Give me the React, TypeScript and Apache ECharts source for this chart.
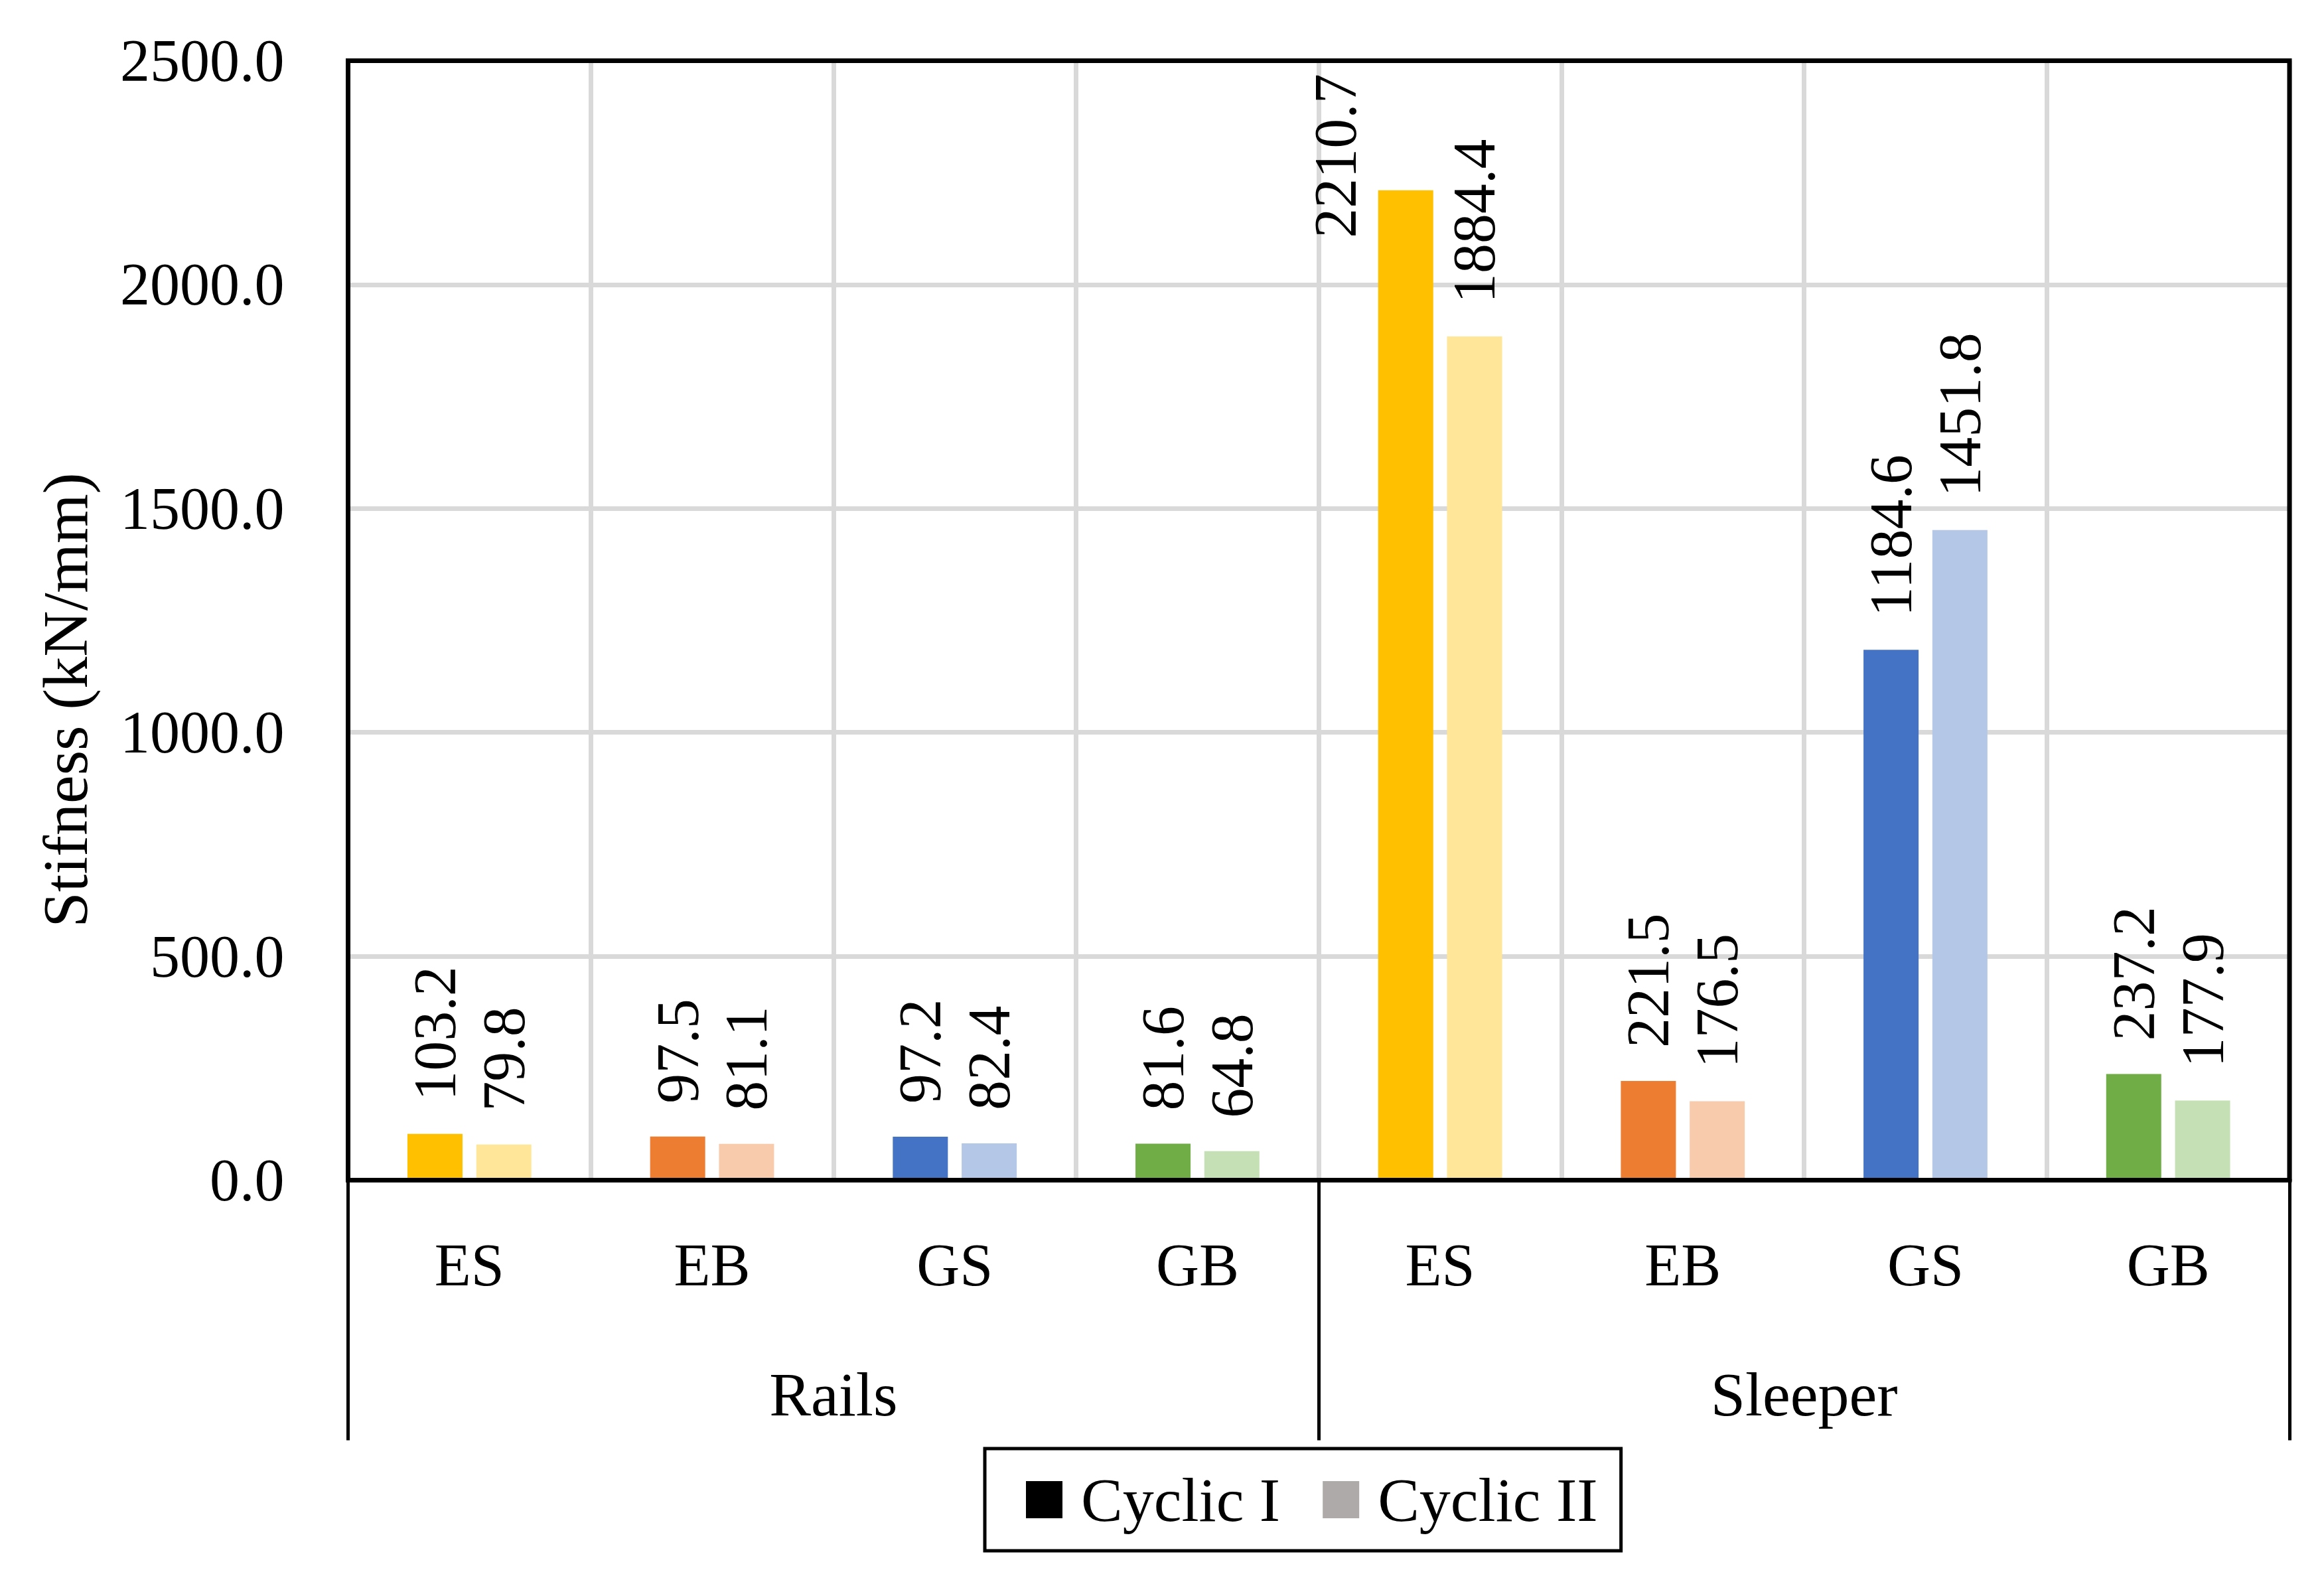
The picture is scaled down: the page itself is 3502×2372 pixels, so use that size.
import React, { useEffect, useRef } from "react";
import * as echarts from "echarts";

const categories = ["ES", "EB", "GS", "GB", "ES", "EB", "GS", "GB"];
const groups = ["Rails", "Sleeper"];
const cyclicI = [103.2, 97.5, 97.2, 81.6, 2210.7, 221.5, 1184.6, 237.2];
const cyclicII = [79.8, 81.1, 82.4, 64.8, 1884.4, 176.5, 1451.8, 177.9];
const colorsI = ["#FFC000", "#ED7D31", "#4472C4", "#70AD47"];
const colorsII = ["#FFE699", "#F8CBAD", "#B4C7E7", "#C5E0B4"];
const seriesNames = ["Cyclic I", "Cyclic II"];
const legendColors = ["#000000", "#AEAAAA"];
const yTicks = { min: 0, max: 2500, interval: 500 };
const yName = "Stifness (kN/mm)";

const FONT = "'Liberation Serif', 'Times New Roman', serif";

const GRID = { left: 524.5, top: 91.5, right: 3450, bottom: 1778.5 };

export default function App() {
  const ref = useRef<HTMLDivElement>(null);
  useEffect(() => {
    if (!ref.current) return;
    const chart = echarts.init(ref.current, undefined, { renderer: "svg" });

    const baseLabel = {
      show: true,
      position: "top",
      distance: 50,
      rotate: 90,
      align: "left",
      verticalAlign: "middle",
      fontSize: 90,
      fontFamily: FONT,
      color: "#000",
      formatter: (p: any) => Number(p.value).toFixed(1),
    };

    const makeData = (vals: number[], cols: string[], sIdx: number) =>
      vals.map((v, i) => {
        const item: any = { value: v, itemStyle: { color: cols[i % 4] } };
        if (sIdx === 0 && i === 4) {
          item.label = { position: [-64, 72] };
        }
        return item;
      });

    chart.setOption({
      animation: false,
      backgroundColor: "#fff",
      grid: {
        left: GRID.left,
        right: 3502 - GRID.right,
        top: GRID.top,
        bottom: 2372 - GRID.bottom,
        show: false,
      },
      legend: {
        data: seriesNames,
        left: 1484,
        top: 2183,
        orient: "horizontal",
        icon: "rect",
        itemWidth: 55,
        itemHeight: 56,
        itemGap: 64,
        padding: [30, 35, 30, 62],
        borderColor: "#000",
        borderWidth: 5,
        backgroundColor: "#fff",
        textStyle: {
          fontSize: 94,
          fontFamily: FONT,
          color: "#000",
          padding: [0, 0, 0, 23],
        },
      },
      graphic: [
        {
          type: "text",
          x: 98,
          y: 1055,
          rotation: Math.PI / 2,
          style: {
            text: yName,
            fontSize: 96,
            fontFamily: FONT,
            fill: "#000",
            align: "center",
            verticalAlign: "middle",
          },
        },
        {
          type: "rect",
          z: 100,
          silent: true,
          shape: {
            x: GRID.left,
            y: GRID.top,
            width: GRID.right - GRID.left,
            height: GRID.bottom - GRID.top,
          },
          style: { fill: "none", stroke: "#000", lineWidth: 7 },
        },
      ],
      xAxis: [
        {
          type: "category",
          data: categories,
          position: "bottom",
          axisLine: { show: true, lineStyle: { color: "#000", width: 7 } },
          axisTick: { show: false },
          axisLabel: {
            interval: 0,
            margin: 83,
            fontSize: 90,
            fontFamily: FONT,
            color: "#000",
          },
          splitLine: {
            show: true,
            interval: 0,
            lineStyle: { color: "#D9D9D9", width: 7 },
          },
        },
        {
          type: "category",
          data: groups,
          position: "bottom",
          offset: 0,
          axisLine: { show: false },
          axisTick: {
            show: true,
            interval: 0,
            length: 392,
            lineStyle: { color: "#000", width: 5 },
          },
          axisLabel: {
            interval: 0,
            margin: 275,
            fontSize: 94,
            fontFamily: FONT,
            color: "#000",
          },
          splitLine: { show: false },
        },
      ],
      yAxis: {
        type: "value",
        min: yTicks.min,
        max: yTicks.max,
        interval: yTicks.interval,
        axisLine: { show: false },
        axisTick: { show: false },
        axisLabel: {
          margin: 96,
          fontSize: 90,
          fontFamily: FONT,
          color: "#000",
          formatter: (v: number) => v.toFixed(1),
        },
        splitLine: { show: true, lineStyle: { color: "#D9D9D9", width: 7 } },
      },
      series: [
        {
          name: seriesNames[0],
          type: "bar",
          xAxisIndex: 0,
          barWidth: "22.7%",
          barGap: "25%",
          itemStyle: { color: legendColors[0] },
          label: baseLabel,
          data: makeData(cyclicI, colorsI, 0),
        },
        {
          name: seriesNames[1],
          type: "bar",
          xAxisIndex: 0,
          barWidth: "22.7%",
          barGap: "25%",
          itemStyle: { color: legendColors[1] },
          label: baseLabel,
          data: makeData(cyclicII, colorsII, 1),
        },
      ],
    });
    return () => chart.dispose();
  }, []);

  return (
    <div
      ref={ref}
      style={{ position: "absolute", left: 0, top: 0, width: 3502, height: 2372 }}
    />
  );
}
